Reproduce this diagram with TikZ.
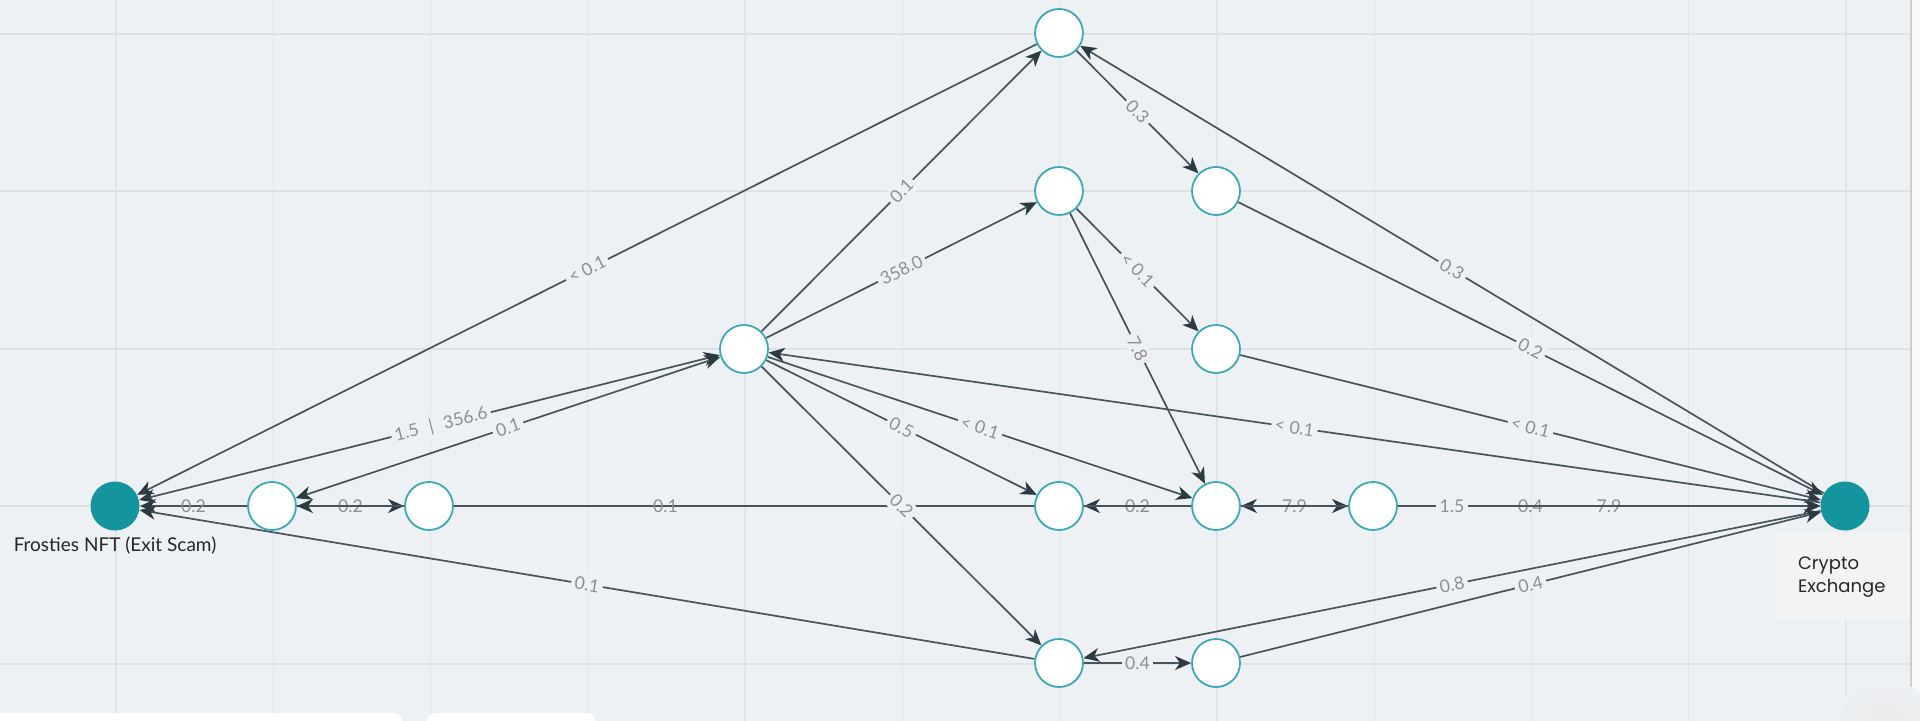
\documentclass[tikz,border=0pt]{standalone}
\usepackage{fontspec}
\setmainfont{Lato}
\newfontfamily\poppins{Poppins}
\usetikzlibrary{arrows.meta}
\pgfdeclarelayer{fg}
\pgfsetlayers{main,fg}
\definecolor{bg}{HTML}{EEF1F4}
\definecolor{gridh}{HTML}{DEE1E5}
\definecolor{gridv}{HTML}{E2E5E8}
\definecolor{edgec}{HTML}{46545B}
\definecolor{tipc}{HTML}{2C3A41}
\definecolor{tealb}{HTML}{3DA9B5}
\definecolor{tealf}{HTML}{13949F}
\definecolor{labc}{HTML}{8E8E8E}
\definecolor{boxc}{HTML}{F3F3F4}
\definecolor{edgebar}{HTML}{CDCDCD}
\definecolor{rightc}{HTML}{F7F9FB}
\tikzset{
  wnode/.style={circle, draw=tealb, fill=white, line width=0.9pt, minimum size=24pt, inner sep=0pt},
  tnode/.style={circle, fill=tealf, minimum size=24.5pt, inner sep=0pt},
  tipa/.tip={Stealth[length=8pt,width=7pt,inset=2.4pt,color=tipc]},
  flow/.style={draw=edgec, line width=0.85pt, -tipa},
  both/.style={draw=edgec, line width=0.85pt, tipa-tipa},
  lab/.style={midway, sloped, fill=bg, inner sep=1.8pt, text=labc, font=\fontsize{8.8}{9}\selectfont},
  hlab/.style={midway, inner sep=1pt, text=labc, font=\fontsize{8.8}{9}\selectfont}
}
\begin{document}
\begin{tikzpicture}[x=0.5pt,y=-0.5pt]
\useasboundingbox (0,0) rectangle (1920,721);
\clip (0,0) rectangle (1920,721);
\fill[bg] (0,0) rectangle (1920,721);
% grid
\foreach \k in {0,...,11} \draw[gridv, line width=0.6pt] ({116+157.27*\k},0) -- ({116+157.27*\k},721);
\foreach \k in {0,...,4} \draw[gridh, line width=1pt] (0,{34+157.4*\k}) -- (1911,{34+157.4*\k});
% right canvas edge
\fill[rightc] (1912,0) rectangle (1920,721);
\draw[edgebar, line width=1pt] (1911,0) -- (1911,721);
% label box for exchange
\fill[boxc] (1775,533) rectangle (1910,619);
% bottom-right shadow
\shade[inner color=black!9, outer color=bg] (1885,735) circle (55);
% bottom UI boxes
\fill[white, rounded corners=4pt] (-20,713) rectangle (402,760);
\fill[white, rounded corners=4pt] (427,713) rectangle (595,760);

\begin{pgfonlayer}{fg}
\node[tnode] (F)  at (115,506) {};
\node[wnode] (A1) at (272,506) {};
\node[wnode] (A2) at (429,506) {};
\node[wnode] (H)  at (744,349) {};
\node[wnode] (T1) at (1059,33) {};
\node[wnode] (T2) at (1059,191) {};
\node[wnode] (R1) at (1216,191) {};
\node[wnode] (R2) at (1216,349) {};
\node[wnode] (M1) at (1059,506) {};
\node[wnode] (M2) at (1216,506) {};
\node[wnode] (M3) at (1373,506) {};
\node[tnode] (CE) at (1845,506) {};
\node[wnode] (B1) at (1059,663) {};
\node[wnode] (B2) at (1216,663) {};
\node[text=black!85, font=\fontsize{9.5}{11}\selectfont] (Flab) at (115,546) {Frosties NFT (Exit Scam)};
\node[anchor=west, align=left, text=black!85, font=\poppins\fontsize{9}{11.5}\selectfont] (CElab) at (1791,577) {Crypto\\Exchange};
\end{pgfonlayer}

% horizontal flows on the main row
\draw[flow] (A1) -- node[hlab]{0.2} (F);
\draw[flow] (A1) -- node[hlab]{0.2} (A2);
\draw[flow] (M1) -- node[hlab]{0.1} (A1);
\draw[flow] (M2) -- node[hlab]{0.2} (M1);
\draw[both] (M2) -- node[hlab]{7.9} (M3);
\draw[flow] (M3) -- node[hlab]{7.9} (CE);
\draw[flow] (M2) -- node[hlab]{0.4} (CE);
\draw[flow] (M1) -- node[lab]{1.5} (CE);

% other flows
\draw[flow] (T1) -- node[lab]{< 0.1} (F);
\draw[flow] (H) -- node[lab]{0.1} (T1);
\draw[flow] (H) -- node[lab]{358.0} (T2);
\draw[flow] (T1) -- node[lab]{0.3} (R1);
\draw[flow] (CE) -- node[lab]{0.3} (T1);
\draw[flow] (R1) -- node[lab]{0.2} (CE);
\draw[flow] (T2) -- node[lab]{< 0.1} (R2);
\draw[flow] (T2) -- node[lab]{7.8} (M2);
\draw[flow] (R2) -- node[lab]{< 0.1} (CE);
\draw[flow] (CE) -- node[lab]{< 0.1} (H);
\draw[both] (F) -- node[lab, pos=0.52]{1.5\hspace{0.6em}|\hspace{0.6em}356.6} (H);
\draw[both] (A1) -- node[lab]{0.1} (H);
\draw[flow] (H) -- node[lab]{0.5} (M1);
\draw[flow] (H) -- node[lab]{< 0.1} (M2);
\draw[flow] (H) -- node[lab]{0.2} (B1);
\draw[flow] (B1) -- node[lab]{0.1} (F);
\draw[flow] (CE) -- node[lab]{0.8} (B1);
\draw[flow] (B1) -- node[lab]{0.4} (B2);
\draw[flow] (B2) -- node[lab]{0.4} (CE);
\end{tikzpicture}
\end{document}
